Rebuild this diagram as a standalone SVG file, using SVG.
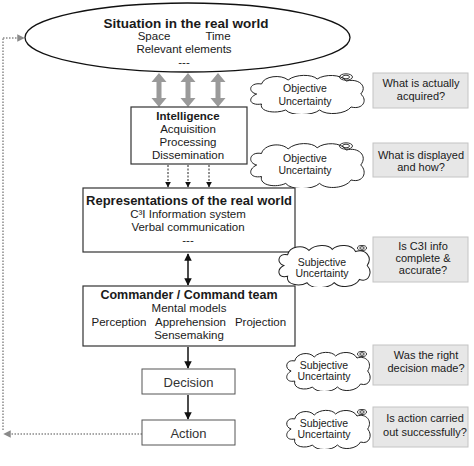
<svg xmlns="http://www.w3.org/2000/svg" xmlns:xlink="http://www.w3.org/1999/xlink" width="474" height="466" viewBox="0 0 474 466">
<style>
text{font-family:"Liberation Sans",Arial,sans-serif;fill:#1a1a1a;text-anchor:middle;dominant-baseline:central}
.b{font-weight:bold}
.t{font-size:11.5px}
.c{font-size:10.5px}
.q{font-size:11px}
.box{fill:#fff;stroke:#333;stroke-width:1.2}
.gbox{fill:#e7e7e7;stroke:#c4c4c4;stroke-width:1}
.cl{fill:#fff;stroke:#222;stroke-width:1}
.sp{fill:none;stroke:#222;stroke-width:0.9}
.ga{fill:#9a9a9a}
.dot{stroke:#222;stroke-width:1;stroke-dasharray:2,1.5;fill:none}
.fb{stroke:#8a8a8a;stroke-width:1.5;stroke-dasharray:1.5,1.5;fill:none}
.ar{stroke:#111;stroke-width:1.5;fill:none}
</style>
<defs>
<symbol id="cloud" viewBox="0 0 100 40" preserveAspectRatio="none">
<path vector-effect="non-scaling-stroke" class="cl" d="M8,20 C0,18 2,8 12,10 C14,2 28,0 34,6 C40,0 54,0 58,5 C64,0 78,0 82,7 C92,4 100,12 94,20 C100,26 96,36 86,33 C82,40 66,42 60,36 C54,42 36,42 32,36 C24,40 10,38 12,30 C2,32 0,24 8,20 Z"/>
</symbol>
<path id="garrow" class="ga" d="M0,-34 L7.5,-25 L2.5,-25 L2.5,-9 L7.5,-9 L0,0 L-7.5,-9 L-2.5,-9 L-2.5,-25 L-7.5,-25 Z"/>
<marker id="ba" viewBox="0 0 10 10" refX="9" refY="5" markerWidth="5" markerHeight="5" orient="auto-start-reverse" markerUnits="strokeWidth">
<path d="M0,0 L10,5 L0,10 Z" fill="#111"/>
</marker>
<marker id="da" viewBox="0 0 10 10" refX="9" refY="5" markerWidth="6" markerHeight="6" orient="auto-start-reverse" markerUnits="strokeWidth">
<path d="M0,0 L10,5 L0,10 Z" fill="#111"/>
</marker>
<marker id="fa" viewBox="0 0 10 10" refX="9" refY="5" markerWidth="5" markerHeight="5" orient="auto" markerUnits="strokeWidth">
<path d="M0,0 L10,5 L0,10 Z" fill="#8a8a8a"/>
</marker>
</defs>

<g id="connectors">
<use xlink:href="#garrow" x="159" y="107"/>
<use xlink:href="#garrow" x="188" y="107"/>
<use xlink:href="#garrow" x="218" y="107"/>
<line class="dot" x1="168" y1="165" x2="168" y2="187" marker-end="url(#da)"/>
<line class="dot" x1="188" y1="165" x2="188" y2="187" marker-end="url(#da)"/>
<line class="dot" x1="209" y1="165" x2="209" y2="187" marker-end="url(#da)"/>
<line class="ar" x1="188" y1="254" x2="188" y2="285" marker-start="url(#ba)" marker-end="url(#ba)"/>
<line class="ar" x1="188" y1="347" x2="188" y2="368" marker-end="url(#ba)"/>
<line class="ar" x1="188" y1="395" x2="188" y2="419" marker-end="url(#ba)"/>
<line class="fb" x1="142" y1="434" x2="4" y2="434" marker-end="url(#fa)"/>
<line class="fb" x1="3" y1="430" x2="3" y2="38"/>
<line class="fb" x1="3" y1="38" x2="24" y2="38" marker-end="url(#fa)"/>
</g>

<g id="situation">
<ellipse cx="187.5" cy="37.5" rx="162.5" ry="34.5" fill="#fff" stroke="#111" stroke-width="1.3"/>
<text x="186" y="23" class="b" style="font-size:13.5px">Situation in the real world</text>
<text x="154" y="36" class="t">Space</text>
<text x="218" y="36" class="t">Time</text>
<text x="184" y="49" class="t">Relevant elements</text>
<text x="184" y="62" class="t">---</text>
</g>

<g id="intelligence">
<rect class="box" x="131" y="107" width="116" height="57"/>
<text x="188" y="116" class="b t">Intelligence</text>
<text x="188" y="129" class="t">Acquisition</text>
<text x="188" y="142" class="t">Processing</text>
<text x="188" y="155" class="t">Dissemination</text>
</g>

<g id="representations">
<rect class="box" x="83" y="188" width="212" height="64"/>
<text x="189" y="200" class="b" style="font-size:13px">Representations of the real world</text>
<text x="188" y="214" class="t">C³I Information system</text>
<text x="188" y="227" class="t">Verbal communication</text>
<text x="188" y="240" class="t">---</text>
</g>

<g id="commander">
<rect class="box" x="83" y="286" width="212" height="60"/>
<text x="189" y="295" class="b" style="font-size:12.5px">Commander / Command team</text>
<text x="189" y="308" class="t">Mental models</text>
<text x="119" y="322" class="t">Perception</text>
<text x="190.5" y="322" class="t">Apprehension</text>
<text x="260.5" y="322" class="t">Projection</text>
<text x="189" y="335" class="t">Sensemaking</text>
</g>

<g id="decision">
<rect x="142" y="369" width="93" height="25" fill="#fff" stroke="#555" stroke-width="1"/>
<text x="188.5" y="382" style="font-size:13px;fill:#333">Decision</text>
</g>

<g id="action">
<rect x="142" y="420" width="93" height="25" fill="#fff" stroke="#555" stroke-width="1"/>
<text x="188.5" y="433" style="font-size:13px;fill:#333">Action</text>
</g>

<g id="cloud1">
<use xlink:href="#cloud" x="247" y="74" width="121" height="40"/>
<ellipse class="sp" cx="346" cy="77" rx="6.5" ry="3.2" fill="#fff"/>
<ellipse class="sp" cx="346" cy="77" rx="3.5" ry="1.8"/>
<text x="305" y="88" class="c">Objective</text>
<text x="305" y="101" class="c">Uncertainty</text>
</g>

<g id="cloud2">
<use xlink:href="#cloud" x="247" y="142" width="121" height="46"/>
<ellipse class="sp" cx="346" cy="146" rx="6.5" ry="3.2" fill="#fff"/>
<ellipse class="sp" cx="346" cy="146" rx="3.5" ry="1.8"/>
<text x="305" y="158" class="c">Objective</text>
<text x="305" y="170" class="c">Uncertainty</text>
</g>

<g id="cloud3">
<use xlink:href="#cloud" x="276" y="244" width="97" height="43"/>
<ellipse class="sp" cx="362" cy="248" rx="4.5" ry="2.5" fill="#fff"/>
<ellipse class="sp" cx="362" cy="248" rx="2.2" ry="1.3"/>
<text x="322" y="262" class="c">Subjective</text>
<text x="322" y="273" class="c">Uncertainty</text>
</g>

<g id="cloud4">
<use xlink:href="#cloud" x="284" y="351" width="89" height="40"/>
<ellipse class="sp" cx="362" cy="354" rx="4.5" ry="2.5" fill="#fff"/>
<ellipse class="sp" cx="362" cy="354" rx="2.2" ry="1.3"/>
<text x="324" y="365" class="c">Subjective</text>
<text x="324" y="376" class="c">Uncertainty</text>
</g>

<g id="cloud5">
<use xlink:href="#cloud" x="284" y="409" width="89" height="40"/>
<ellipse class="sp" cx="362" cy="412" rx="4.5" ry="2.5" fill="#fff"/>
<ellipse class="sp" cx="362" cy="412" rx="2.2" ry="1.3"/>
<text x="324" y="423" class="c">Subjective</text>
<text x="324" y="434" class="c">Uncertainty</text>
</g>

<g id="q1">
<rect class="gbox" x="373" y="73" width="95" height="35"/>
<text x="421" y="83" class="q">What is actually</text>
<text x="421" y="96" class="q">acquired?</text>
</g>
<g id="q2">
<rect class="gbox" x="373" y="143" width="95" height="34"/>
<text x="421" y="155" class="q">What is displayed</text>
<text x="421" y="167" class="q">and how?</text>
</g>
<g id="q3">
<rect class="gbox" x="373" y="237" width="95" height="45"/>
<text x="423" y="246" class="q">Is C3I info</text>
<text x="423" y="258" class="q">complete &amp;</text>
<text x="423" y="270" class="q">accurate?</text>
</g>
<g id="q4">
<rect class="gbox" x="373" y="345" width="95" height="40"/>
<text x="426" y="355" class="q">Was the right</text>
<text x="426" y="368" class="q">decision made?</text>
</g>
<g id="q5">
<rect class="gbox" x="373" y="407" width="95" height="40"/>
<text x="425" y="418" class="q">Is action carried</text>
<text x="425" y="432" class="q">out successfully?</text>
</g>
</svg>
